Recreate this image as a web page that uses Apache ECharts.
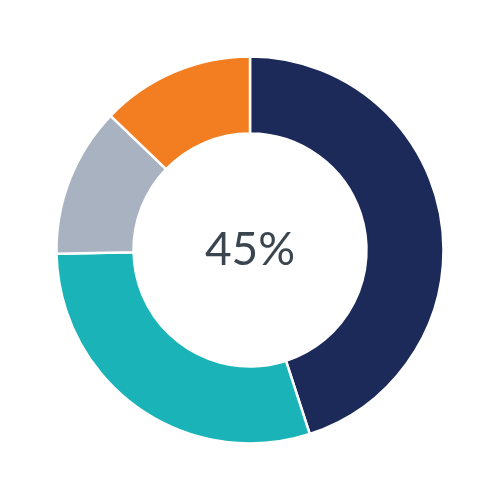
<!DOCTYPE html>
<html>
<head>
<meta charset="utf-8">
<script src="https://cdn.jsdelivr.net/npm/echarts@6/dist/echarts.min.js"></script>
<style>html,body{margin:0;padding:0;background:#fff}#c{width:500px;height:500px}</style>
</head>
<body>
<div id="c"></div>
<script>
const categories = ['A', 'B', 'C', 'D'];
const values = [45, 29.7, 12.5, 12.8];
const colors = ['#1c2a5a', '#1ab4b8', '#a8b2c1', '#f27e21'];
const centerLabel = '45%';

const chart = echarts.init(document.getElementById('c'));
chart.setOption({
  animation: false,
  title: {
    text: centerLabel,
    left: 'center',
    top: 'middle',
    textStyle: { fontFamily: 'Lato', fontWeight: 400, fontSize: 46, color: '#3a4550' }
  },
  series: [{
    type: 'pie',
    center: ['50%', '50%'],
    radius: ['46.6%', '77.4%'],
    startAngle: 90,
    clockwise: true,
    label: { show: false },
    labelLine: { show: false },
    itemStyle: { borderColor: '#fff', borderWidth: 2.5 },
    data: categories.map((c, i) => ({ name: c, value: values[i], itemStyle: { color: colors[i] } }))
  }]
});
</script>
</body>
</html>
